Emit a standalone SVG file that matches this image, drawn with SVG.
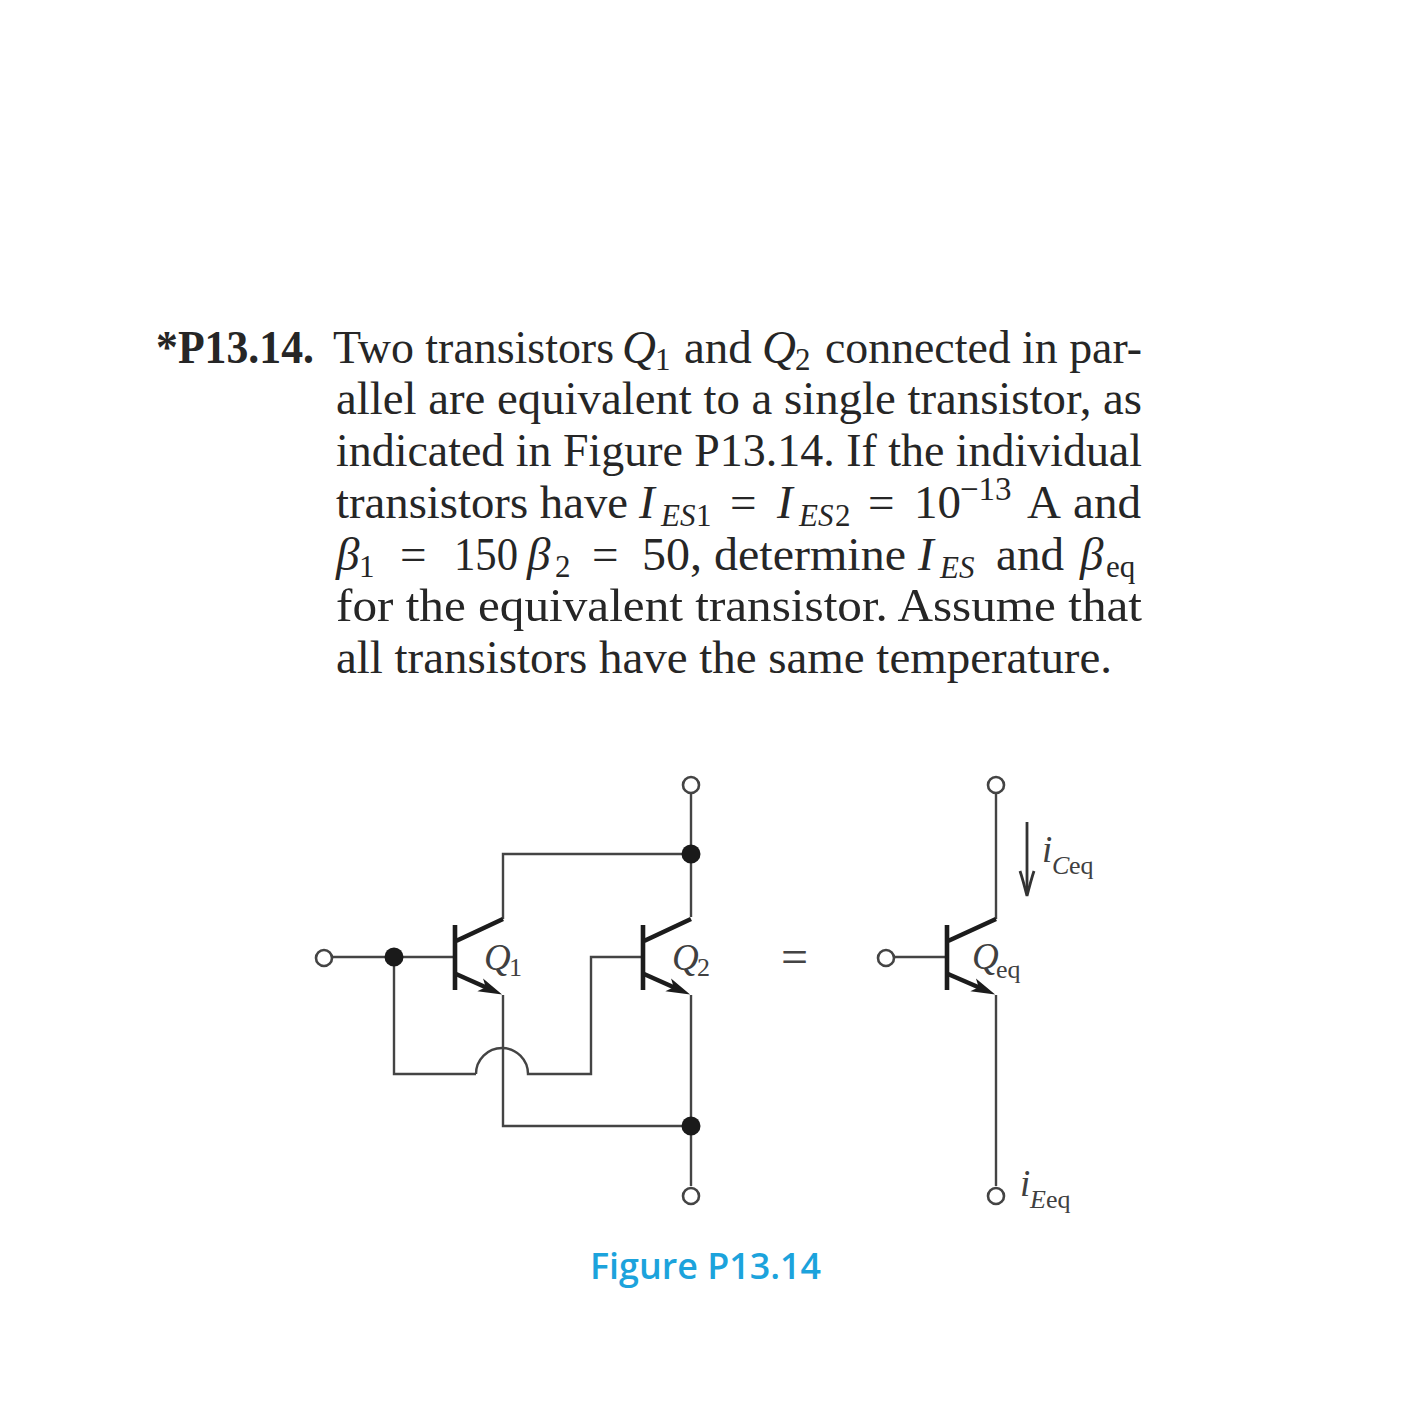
<svg xmlns="http://www.w3.org/2000/svg" width="1414" height="1414" viewBox="0 0 1414 1414">
<style>
text{font-family:"Liberation Serif","Times New Roman",serif;fill:#262626}
.b{font-size:47px}
.i{font-style:italic}
.sub{font-size:31px}
.l{font-size:37px;font-style:italic;fill:#404040}
.ls{font-size:26px;font-style:normal;fill:#404040}
.w{fill:none;stroke:#444;stroke-width:2.4}
.t{fill:none;stroke:#1c1c1c;stroke-width:4.6}
.o{fill:#fff;stroke:#444;stroke-width:2.6}
.d{fill:#1a1a1a}
.cap{font-family:"Open Sans","Noto Sans",sans-serif;font-weight:600;font-size:36px;fill:#1ca3dc}
</style>
<defs>
<marker id="em" markerUnits="userSpaceOnUse" markerWidth="28" markerHeight="20" refX="14" refY="10" orient="auto"><path d="M0 3 L24 10 L0 17 L6 10 Z" fill="#1c1c1c"/></marker>
</defs>
<rect width="1414" height="1414" fill="#fff"/>
<g id="problem-text">
<text class="b" x="156" y="363" font-weight="bold" textLength="158" lengthAdjust="spacingAndGlyphs">*P13.14.</text>
<text class="b" x="333" y="363" textLength="281" lengthAdjust="spacingAndGlyphs">Two transistors</text>
<text class="b" y="363"><tspan class="i" x="622">Q</tspan><tspan class="sub" x="655" dy="7">1</tspan></text>
<text class="b" x="684" y="363">and</text>
<text class="b" y="363"><tspan class="i" x="762">Q</tspan><tspan class="sub" x="795" dy="7">2</tspan></text>
<text class="b" x="825" y="363" textLength="317" lengthAdjust="spacingAndGlyphs">connected in par-</text>
<text class="b" x="336" y="414" textLength="806" lengthAdjust="spacingAndGlyphs">allel are equivalent to a single transistor, as</text>
<text class="b" x="336" y="466" textLength="806" lengthAdjust="spacingAndGlyphs">indicated in Figure P13.14. If the individual</text>
<text class="b" x="336" y="518" textLength="292" lengthAdjust="spacingAndGlyphs">transistors have</text>
<text class="b" y="518"><tspan class="i" x="639">I</tspan><tspan class="sub i" x="661" dy="8">ES</tspan><tspan class="sub" x="696">1</tspan></text>
<text class="b" x="730" y="518">=</text>
<text class="b" y="518"><tspan class="i" x="777">I</tspan><tspan class="sub i" x="799" dy="8">ES</tspan><tspan class="sub" x="835">2</tspan></text>
<text class="b" x="868" y="518">=</text>
<text class="b" y="518"><tspan x="914">10</tspan><tspan class="sub" style="font-size:33px" x="960" dy="-18">−13</tspan></text>
<text class="b" x="1027" y="518">A</text><text class="b" x="1073" y="518" textLength="68" lengthAdjust="spacingAndGlyphs">and</text>
<text class="b" y="570"><tspan class="i" x="336">β</tspan><tspan class="sub" x="359" dy="7">1</tspan></text>
<text class="b" x="400" y="570">=</text>
<text class="b" x="454" y="570" textLength="64" lengthAdjust="spacingAndGlyphs">150</text>
<text class="b" y="570"><tspan class="i" x="527">β</tspan><tspan class="sub" x="555" dy="7">2</tspan></text>
<text class="b" x="592" y="570">=</text>
<text class="b" x="642" y="570" textLength="264" lengthAdjust="spacingAndGlyphs">50, determine</text>
<text class="b" y="570"><tspan class="i" x="918">I</tspan><tspan class="sub i" x="940" dy="8">ES</tspan></text>
<text class="b" x="996" y="570" textLength="68" lengthAdjust="spacingAndGlyphs">and</text>
<text class="b" y="570"><tspan class="i" x="1080">β</tspan><tspan class="sub" x="1106" dy="7">eq</tspan></text>
<text class="b" x="336" y="621" textLength="806" lengthAdjust="spacingAndGlyphs">for the equivalent transistor. Assume that</text>
<text class="b" x="336" y="673" textLength="776" lengthAdjust="spacingAndGlyphs">all transistors have the same temperature.</text>
</g>
<g id="connectors">
<path class="w" d="M691 794V917"/>
<path class="w" d="M691 854H503V919"/>
<path class="w" d="M333 957H455"/>
<path class="w" d="M394 957V1074H476"/>
<path class="w" d="M476 1074A26 26 0 0 1 528 1074H591V957H643"/>
<path class="w" d="M503 995V1126H691"/>
<path class="w" d="M691 995V1186"/>
<path class="w" d="M996 794V919"/>
<path class="w" d="M895 957H947"/>
<path class="w" d="M996 995V1186"/>
<path class="w" d="M1027 822V892" style="stroke:#333;stroke-width:2.8"/>
<path class="w" d="M1020 871C1023 880 1025 888 1027 896C1029 888 1031 880 1034 871" style="stroke:#333;stroke-width:2.8"/>
</g>
<g id="q1">
<path class="t" d="M455 925V990M456 941L503 919"/>
<path class="t" d="M456 974L493 990.5" marker-end="url(#em)"/>
<text class="l" x="484" y="970">Q<tspan class="ls" x="509" dy="6">1</tspan></text>
</g>
<g id="q2">
<path class="t" d="M643 925V990M644 941L691 919"/>
<path class="t" d="M644 974L681 990.5" marker-end="url(#em)"/>
<text class="l" x="672" y="970">Q<tspan class="ls" x="697" dy="6">2</tspan></text>
</g>
<g id="qeq">
<path class="t" d="M947 925V990M948 941L996 919"/>
<path class="t" d="M948 974L986 990.5" marker-end="url(#em)"/>
<text class="l" x="972" y="969">Q<tspan class="ls" x="996" dy="9">eq</tspan></text>
</g>
<g id="terminals">
<circle class="o" cx="324" cy="958" r="8"/>
<circle class="o" cx="691" cy="785" r="8"/>
<circle class="o" cx="691" cy="1196" r="8"/>
<circle class="o" cx="886" cy="958" r="8"/>
<circle class="o" cx="996" cy="785" r="8"/>
<circle class="o" cx="996" cy="1196" r="8"/>
</g>
<g id="junctions">
<circle class="d" cx="394" cy="957" r="9.5"/>
<circle class="d" cx="691" cy="854" r="9.5"/>
<circle class="d" cx="691" cy="1126" r="9.5"/>
</g>
<g id="labels">
<text x="781" y="973" font-size="48" style="fill:#444">=</text>
<text class="l" x="1042" y="862">i<tspan class="ls i" style="font-style:italic" x="1052" dy="12">C</tspan><tspan class="ls" x="1069">eq</tspan></text>
<text class="l" x="1020" y="1196">i<tspan class="ls i" style="font-style:italic" x="1030" dy="12">E</tspan><tspan class="ls" x="1046">eq</tspan></text>
<text class="cap" x="590" y="1279" textLength="231" lengthAdjust="spacingAndGlyphs">Figure P13.14</text>
</g>
</svg>
